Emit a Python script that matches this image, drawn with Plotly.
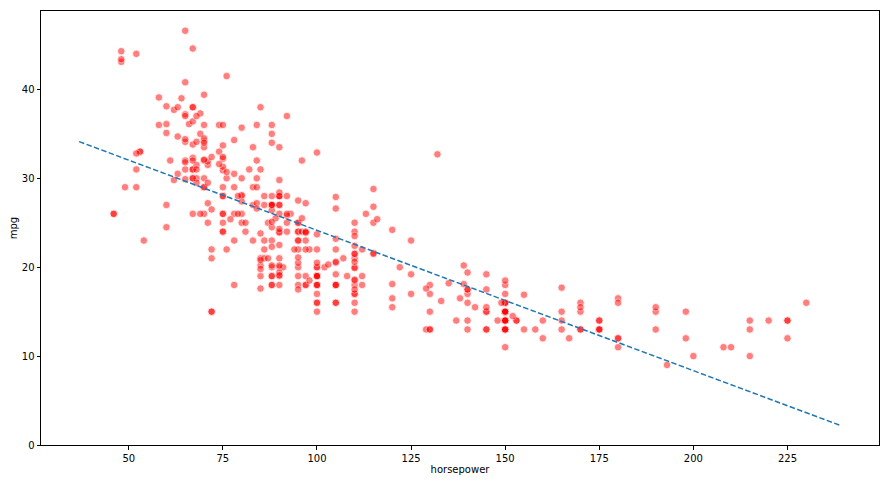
import numpy as np
import plotly.graph_objects as go

# auto-mpg: horsepower vs mpg, grouped by model year
hp_70 = [130, 165, 150, 150, 140, 198, 220, 215, 225, 190, 170, 160, 150, 225, 95, 95, 97, 85, 88, 46, 87, 90, 95, 113, 90, 215, 200, 210, 193]
mpg_70 = [18, 15, 18, 16, 17, 15, 14, 14, 14, 15, 15, 14, 15, 14, 24, 22, 18, 21, 27, 26, 25, 24, 25, 26, 21, 10, 10, 11, 9]
hp_71 = [88, 90, 95, 100, 105, 100, 88, 100, 165, 175, 153, 150, 180, 170, 175, 110, 72, 100, 88, 86, 90, 70, 76, 65, 69, 60, 70]
mpg_71 = [27, 28, 25, 19, 16, 17, 19, 18, 14, 14, 14, 14, 12, 13, 13, 18, 22, 19, 18, 23, 28, 30, 30, 31, 35, 27, 26]
hp_72 = [95, 80, 54, 90, 86, 165, 175, 150, 153, 150, 208, 155, 160, 190, 97, 150, 130, 140, 150, 112, 76, 87, 69, 86, 92, 97, 80, 88]
mpg_72 = [24, 25, 23, 20, 21, 13, 14, 15, 14, 17, 11, 13, 12, 13, 19, 15, 13, 13, 14, 18, 22, 21, 26, 22, 28, 23, 28, 27]
hp_73 = [175, 150, 145, 137, 150, 198, 150, 158, 150, 215, 225, 175, 105, 100, 100, 88, 95, 46, 150, 167, 170, 180, 100, 88, 72, 94, 90, 85, 107, 90, 145, 230, 49, 75, 91, 112, 150, 110, 122, 180]
mpg_73 = [13, 14, 13, 14, 15, 12, 13, 13, 14, 13, 12, 13, 18, 16, 18, 18, 23, 26, 11, 12, 13, 12, 18, 20, 21, 22, 18, 19, 21, 26, 15, 16, 29, 24, 20, 19, 15, 24, 20, 11]
hp_74 = [95, 100, 100, 67, 80, 65, 75, 100, 110, 105, 140, 150, 150, 140, 150, 83, 67, 78, 52, 61, 75, 75, 75, 97, 93, 67]
mpg_74 = [20, 19, 15, 31, 26, 32, 25, 16, 16, 18, 16, 13, 14, 14, 14, 29, 26, 26, 31, 32, 28, 24, 26, 24, 26, 31]
hp_75 = [95, 105, 72, 72, 170, 145, 150, 148, 110, 105, 110, 95, 110, 110, 129, 75, 83, 100, 78, 96, 71, 97, 97, 70, 90, 95, 88, 98, 115, 53]
mpg_75 = [19, 18, 15, 15, 16, 15, 16, 14, 17, 16, 15, 18, 21, 20, 13, 29, 23, 20, 23, 24, 25, 24, 18, 29, 19, 23, 23, 22, 25, 33]
hp_76 = [86, 81, 92, 79, 83, 140, 150, 120, 152, 100, 105, 81, 90, 52, 60, 70, 53, 100, 78, 110, 95, 71, 70, 75, 72, 102, 150, 88, 108, 120, 180, 145, 130, 150]
mpg_76 = [28, 25, 25, 26, 27, 17.5, 16, 15.5, 14.5, 22, 22, 24, 22.5, 29, 24.5, 29, 33, 20, 18, 18.5, 17.5, 29.5, 32, 28, 26.5, 20, 13, 19, 19, 16.5, 16.5, 13, 13, 13]
hp_77 = [68, 80, 58, 96, 70, 145, 110, 145, 130, 110, 105, 100, 98, 180, 170, 190, 149, 78, 88, 75, 89, 63, 83, 67, 78, 97, 110, 110]
mpg_77 = [31.5, 30, 36, 25.5, 33.5, 17.5, 17, 15.5, 15, 17.5, 20.5, 19, 18.5, 16, 15.5, 15.5, 16, 29, 24.5, 26, 25.5, 30.5, 33.5, 30, 30.5, 22, 21.5, 21.5]
hp_78 = [48, 66, 52, 70, 60, 110, 140, 139, 105, 95, 85, 88, 100, 90, 105, 85, 110, 120, 145, 165, 139, 140, 68, 95, 97, 75, 95, 105, 85, 97, 103, 125, 115, 133, 71, 68]
mpg_78 = [43.1, 36.1, 32.8, 39.4, 36.1, 19.9, 19.4, 20.2, 19.2, 20.5, 20.2, 25.1, 20.5, 19.4, 20.6, 20.8, 18.6, 18.1, 19.2, 17.7, 18.1, 17.5, 30, 27.5, 27.2, 30.9, 21.1, 23.2, 23.8, 23.9, 20.3, 17, 21.6, 16.2, 31.5, 29.5]
hp_79 = [115, 85, 88, 90, 110, 130, 129, 138, 135, 155, 142, 125, 150, 71, 65, 80, 80, 77, 125, 71, 90, 70, 70, 65, 69, 90, 115, 115, 90]
mpg_79 = [21.5, 19.8, 22.3, 20.2, 20.6, 17, 17.6, 16.5, 18.2, 16.9, 15.5, 19.2, 18.5, 31.9, 34.1, 35.7, 27.4, 25.4, 23, 27.2, 23.9, 34.2, 34.5, 31.8, 37.3, 28.4, 28.8, 26.8, 33.5]
hp_80 = [76, 60, 70, 65, 90, 88, 90, 90, 78, 90, 75, 92, 75, 65, 105, 65, 48, 48, 67, 67, 67, 67, 62, 132, 100, 88, 72]
mpg_80 = [41.5, 38.1, 32.1, 37.2, 28, 26.4, 24.3, 19.1, 34.3, 29.8, 31.3, 37, 32.2, 46.6, 27.9, 40.8, 44.3, 43.4, 36.4, 30, 44.6, 33.8, 29.8, 32.7, 23.7, 35, 32.4]
hp_81 = [84, 84, 92, 110, 84, 58, 64, 60, 67, 65, 62, 68, 63, 65, 65, 74, 75, 75, 100, 74, 80, 76, 116, 120, 110, 105, 88, 85]
mpg_81 = [27.2, 26.6, 25.8, 23.5, 30, 39.1, 39, 35.1, 32.3, 37, 37.7, 34.1, 34.7, 34.4, 29.9, 33, 33.7, 32.4, 32.9, 31.6, 28.1, 30.7, 25.4, 24.2, 22.4, 26.6, 20.2, 17.6]
hp_82 = [88, 88, 88, 85, 84, 90, 92, 74, 68, 68, 63, 70, 88, 75, 70, 67, 67, 67, 110, 85, 92, 112, 96, 84, 90, 86, 52, 84, 79, 82]
mpg_82 = [28, 27, 34, 31, 29, 27, 24, 36, 37, 31, 38, 36, 36, 36, 34, 38, 32, 38, 25, 38, 26, 22, 32, 36, 27, 27, 44, 32, 28, 31]

x_ticks = [50, 75, 100, 125, 150, 175, 200, 225]
y_ticks = [0, 10, 20, 30, 40]

horsepower = np.array(hp_70 + hp_71 + hp_72 + hp_73 + hp_74 + hp_75 + hp_76
                      + hp_77 + hp_78 + hp_79 + hp_80 + hp_81 + hp_82, dtype=float)
mpg = np.array(mpg_70 + mpg_71 + mpg_72 + mpg_73 + mpg_74 + mpg_75 + mpg_76
               + mpg_77 + mpg_78 + mpg_79 + mpg_80 + mpg_81 + mpg_82, dtype=float)

# least squares fit, line drawn a bit past the data
slope, intercept = np.polyfit(horsepower, mpg, 1)
line_x = np.array([horsepower.min() * 0.8, horsepower.max() * 1.04])
line_y = intercept + slope * line_x

fig = go.Figure()
fig.add_trace(go.Scatter(
    x=horsepower, y=mpg, mode="markers",
    marker=dict(color="red", size=7.5, opacity=0.5,
                line=dict(color="white", width=0.8)),
    showlegend=False,
))
fig.add_trace(go.Scatter(
    x=line_x, y=line_y, mode="lines",
    line=dict(color="#1f77b4", width=1.5, dash="5.5px,2.4px"),
    showlegend=False,
))

pad = 0.05 * (line_x[1] - line_x[0])
axis_style = dict(
    showgrid=False, zeroline=False, showline=True, mirror=True,
    linecolor="black", linewidth=1, ticks="outside", ticklen=3.5,
    tickcolor="black", automargin=False,
    tickfont=dict(family="DejaVu Sans", size=10, color="black"),
)
fig.update_xaxes(range=[line_x[0] - pad, line_x[1] + pad], tickvals=x_ticks,
                 title=dict(text="horsepower", standoff=3,
                            font=dict(family="DejaVu Sans", size=10, color="black")),
                 **axis_style)
fig.update_yaxes(range=[0, mpg.max() + 0.05 * (mpg.max() - line_y.min())], tickvals=y_ticks,
                 title=dict(text="mpg", standoff=3,
                            font=dict(family="DejaVu Sans", size=10, color="black")),
                 **axis_style)
# the page body adds 8px around the plot, so margins are set 8px smaller on top/left
fig.update_layout(
    width=888, height=483,
    margin=dict(l=33, r=17, t=3, b=46),
    plot_bgcolor="white", paper_bgcolor="white",
)
fig.write_html("out.html")
